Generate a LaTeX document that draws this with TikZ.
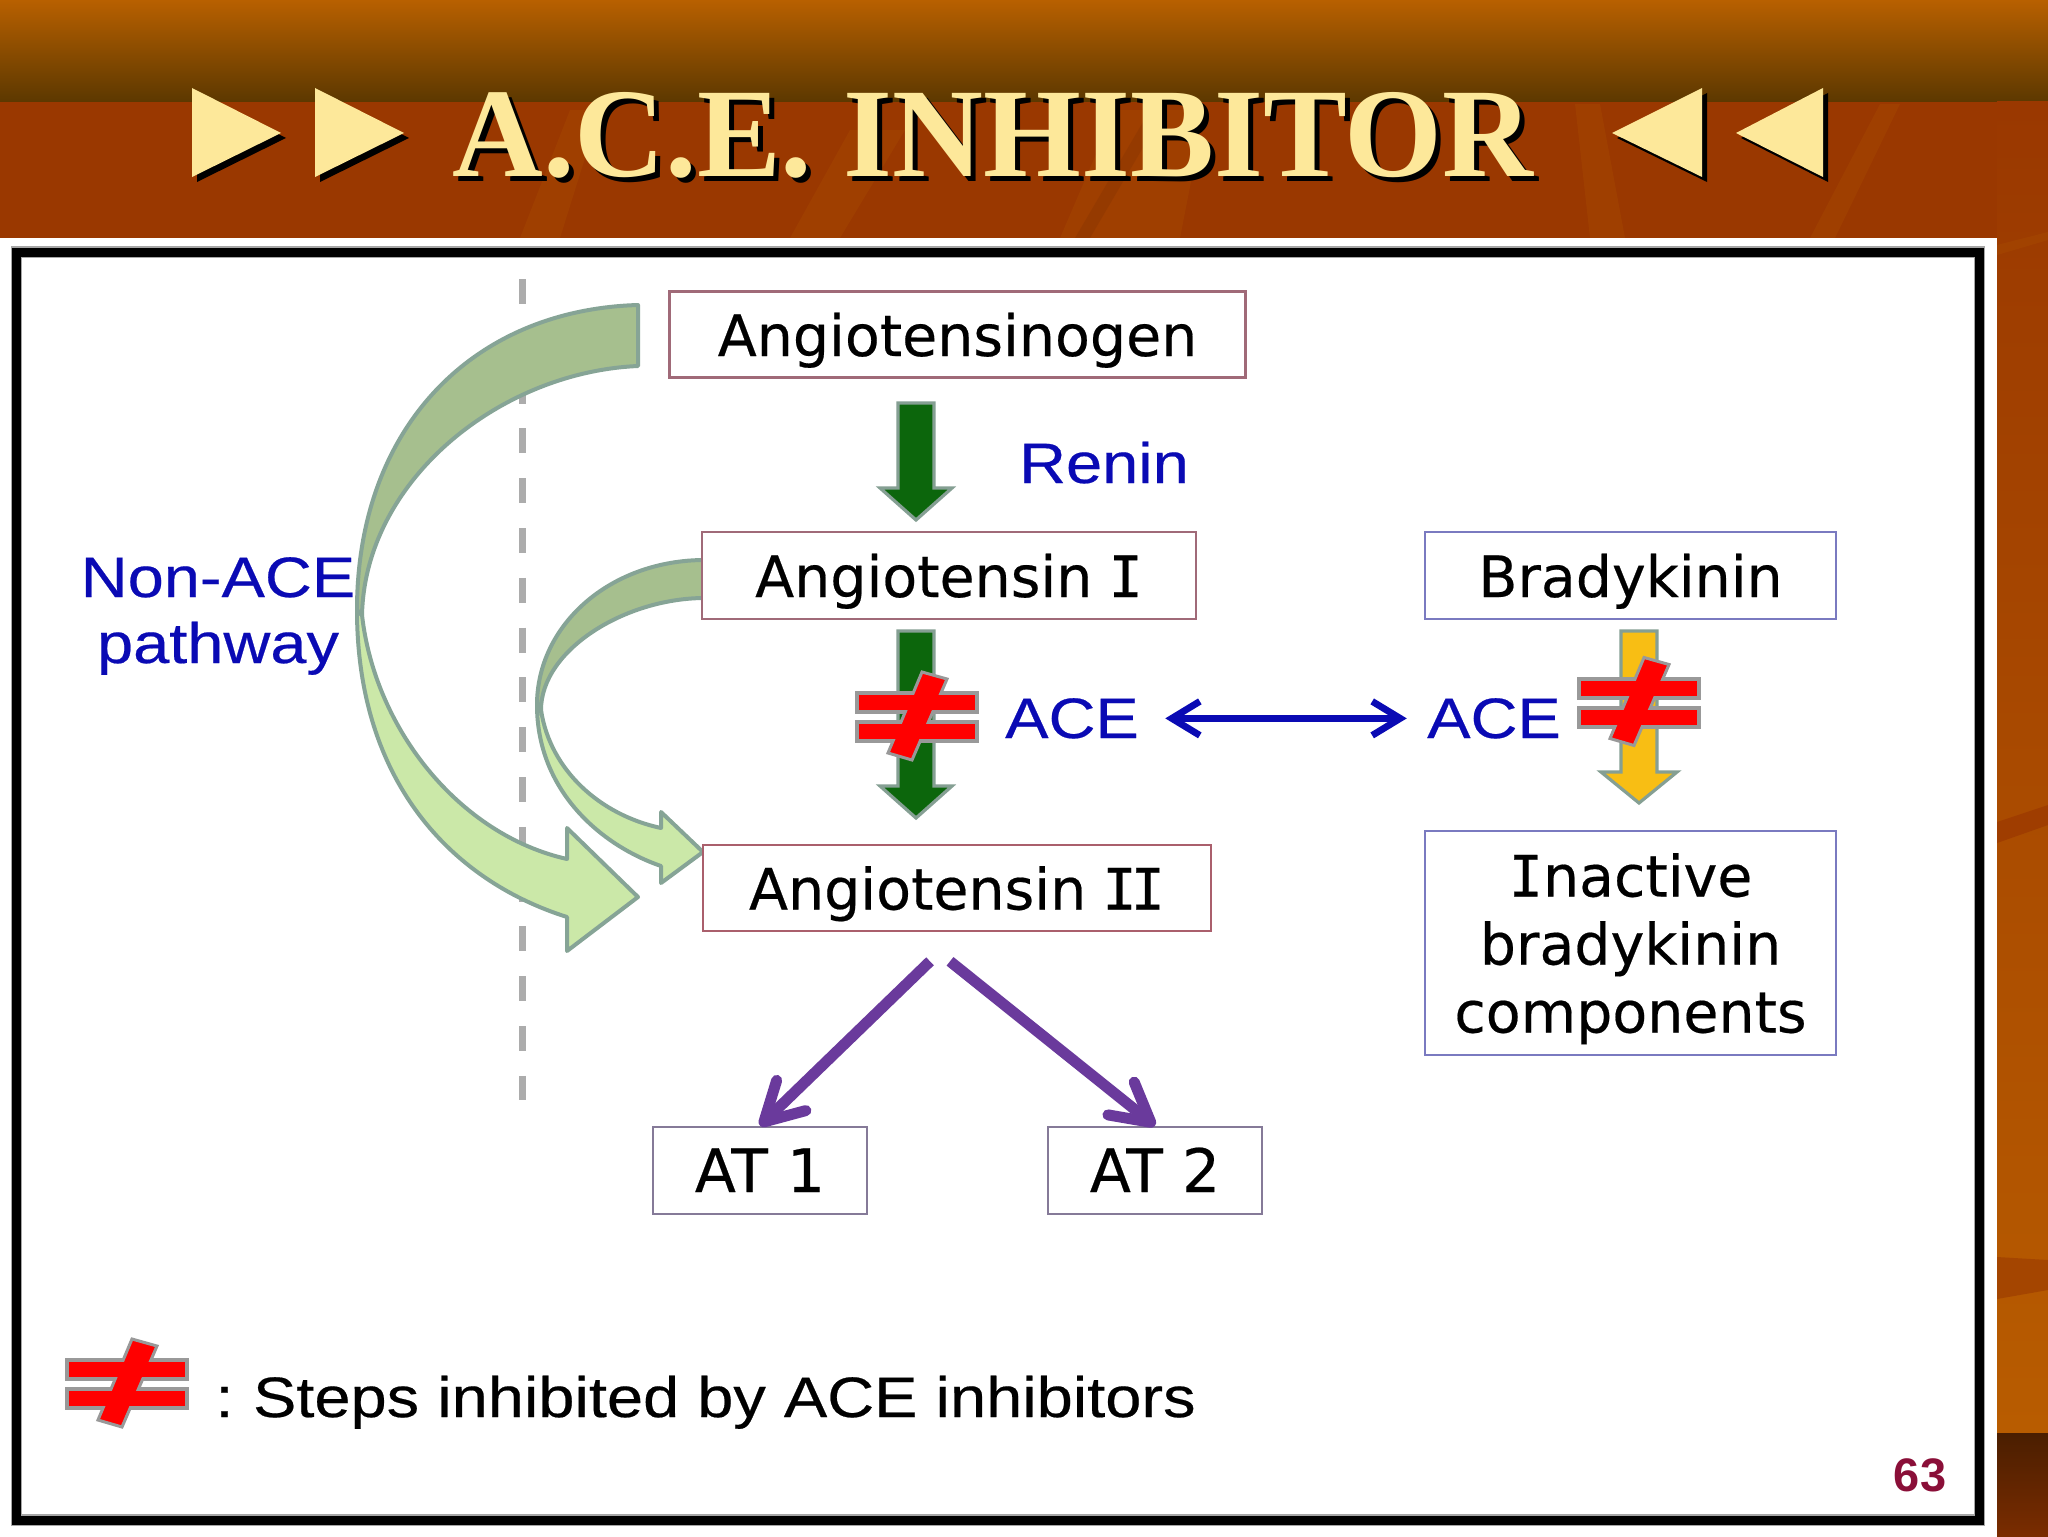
\documentclass[tikz,border=0pt]{standalone}
\usepackage{fontspec}
\setmainfont[FakeBold=0.35]{Liberation Sans}
\newfontfamily\pagefont{Liberation Sans}
\newfontfamily\boxfont[FakeBold=0.35]{DejaVu Sans}
\newfontfamily\serifI[FakeBold=0.35]{DejaVu Sans Mono}
\newfontfamily\titlefont{Liberation Serif}
\usetikzlibrary{arrows.meta,calc}
\definecolor{bandtop}{HTML}{B86000}
\definecolor{bandbot}{HTML}{5C3800}
\definecolor{bgred}{HTML}{9A3800}
\definecolor{bgorange}{HTML}{B85C00}
\definecolor{cornertop}{HTML}{4A1E00}
\definecolor{cornerbot}{HTML}{7A2C00}
\definecolor{cream}{HTML}{FDE89A}
\definecolor{leafdark}{HTML}{A6BF8E}
\definecolor{leaflight}{HTML}{CBE8A8}
\definecolor{leafline}{HTML}{86A496}
\definecolor{arrowgreen}{HTML}{0C660C}
\definecolor{arrowgold}{HTML}{F8BE14}
\definecolor{txtblue}{HTML}{0A0AB4}
\definecolor{purpleline}{HTML}{6A3A9C}
\definecolor{redbox}{HTML}{A06A78}
\definecolor{bluebox}{HTML}{7A7AC0}
\definecolor{greybox}{HTML}{857A98}
\definecolor{pagenum}{HTML}{8A0F38}
\tikzset{
  labelbox/.style={draw=#1,line width=1.3pt,fill=white,inner sep=0pt,font=\boxfont\fontsize{28.5}{34}\selectfont,text height=23pt,text depth=1.5pt,anchor=center},
  bluetext/.style={text=txtblue,font=\fontsize{28.5}{34}\selectfont,xscale=1.14,transform shape,inner sep=0pt,anchor=base},
  blockarrow/.style={fill=#1,draw=leafline!85!gray,line width=1.6pt,line join=miter},
  ribbon/.style={fill=#1,draw=leafline,line width=2pt,line join=round},
  purplearrow/.style={draw=purpleline,line width=5.5pt,-{Straight Barb[length=19pt,width=21pt,round]}},
  streak/.style={fill=#1,fill opacity=.18,draw=none}
}
\newcommand{\stopsign}[2]{%
  \begin{scope}[shift={(#1,#2)}]
    \filldraw[fill=red,draw=gray!80,line width=2pt] (-60,-24) rectangle (60,-5);
    \filldraw[fill=red,draw=gray!80,line width=2pt] (-60,5) rectangle (60,24);
    \filldraw[fill=red,draw=gray!80,line width=1.5pt] (5,-45) -- (30,-38) -- (-5,43) -- (-29,36) -- cycle;
    \fill[red] (-58,-22) rectangle (58,-7);
    \fill[red] (-58,7) rectangle (58,22);
    \fill[red] (8,-42) -- (27,-36) -- (-7,40) -- (-26,34) -- cycle;
  \end{scope}}
\newcommand{\downblock}[7]{% x, halfshaft, halfhead, top, headbase, tip, fill
  \draw[blockarrow=#7] (#1-#2,#4) -- (#1+#2,#4) -- (#1+#2,#5) -- (#1+#3,#5) -- (#1,#6) -- (#1-#3,#5) -- (#1-#2,#5) -- cycle;}
\begin{document}
\begin{tikzpicture}[x=.5pt,y=-.5pt]
\useasboundingbox (0,0) rectangle (2048,1536);
% background
\fill[bgred] (0,0) rectangle (2048,1536);
\shade[top color=bandtop,bottom color=bandbot] (0,0) rectangle (2048,102);
\shade[top color=bgred,bottom color=bgorange] (1997,102) rectangle (2048,1433);
\fill[streak=bandtop] (790,238) -- (850,130) -- (905,130) -- (840,238) -- cycle;
\fill[streak=bandtop] (1060,238) -- (1115,110) -- (1205,110) -- (1180,238) -- cycle;
\fill[streak=bgred!70!black] (1075,238) -- (1150,110) -- (1165,110) -- (1090,238) -- cycle;
\fill[streak=bandtop] (520,238) -- (570,110) -- (600,110) -- (560,238) -- cycle;
\fill[streak=bandtop] (1590,238) -- (1575,104) -- (1600,104) -- (1625,238) -- cycle;
\fill[streak=bandtop] (1810,238) -- (1880,104) -- (1900,104) -- (1835,238) -- cycle;
\fill[streak=bandtop] (1997,255) -- (2048,240) -- (2048,232) -- (1997,245) -- cycle;
\fill[bgred!85!bgorange] (1997,843) -- (2048,825) -- (2048,805) -- (1997,822) -- cycle;
\fill[bgred!65!bgorange] (1997,1257) -- (2048,1260) -- (2048,1290) -- (1997,1299) -- cycle;
\shade[top color=cornertop,bottom color=cornerbot] (1997,1433) rectangle (2048,1536);
% panel
\fill[white] (0,238) rectangle (1997,1536);
\draw[gray!70,line width=5.6pt] (16.5,252) rectangle (1979.5,1520);
\draw[black,line width=4.5pt] (16.5,252) rectangle (1979.5,1520);
% title
\foreach \sx/\sc in {5/black,0/cream}{
  \fill[\sc] (192+\sx,88+\sx) -- (281+\sx,133+\sx) -- (192+\sx,177+\sx) -- cycle;
  \fill[\sc] (315+\sx,88+\sx) -- (404+\sx,133+\sx) -- (315+\sx,177+\sx) -- cycle;
  \fill[\sc] (1702+\sx,88+\sx) -- (1612+\sx,133+\sx) -- (1702+\sx,177+\sx) -- cycle;
  \fill[\sc] (1823+\sx,88+\sx) -- (1736+\sx,133+\sx) -- (1823+\sx,177+\sx) -- cycle;
}
\node[anchor=base,inner sep=0pt,text=black,font=\titlefont\bfseries\fontsize{63.5}{70}\selectfont,xscale=.99,transform shape] (titleshade) at (998,181) {A.C.E. INHIBITOR};
\node[anchor=base,inner sep=0pt,text=cream,font=\titlefont\bfseries\fontsize{63.5}{70}\selectfont,xscale=.99,transform shape] (title) at (993,176) {A.C.E. INHIBITOR};
% dashed divider
\draw[gray!65,line width=3.5pt,dash pattern=on 12.5pt off 12.4pt] (522,279) -- (522,1100);
% big curved arrow
\filldraw[ribbon=leaflight] (357,610) .. controls (357,780) and (450,880) .. (567,917) -- (567,951) -- (638,897) -- (567,828) -- (567,859) .. controls (460,835) and (375,730) .. (362,615) -- cycle;
\filldraw[ribbon=leafdark] (638,305) .. controls (470,310) and (357,430) .. (357,610) -- (362,615) .. controls (365,480) and (500,372) .. (638,366) -- cycle;
% small curved arrow
\filldraw[ribbon=leaflight] (537,705) .. controls (537,790) and (600,845) .. (661,866) -- (661,883) -- (703,852) -- (661,812) -- (661,828) .. controls (600,815) and (550,770) .. (541,710) -- cycle;
\filldraw[ribbon=leafdark] (705,560) .. controls (610,560) and (537,625) .. (537,705) -- (541,710) .. controls (541,650) and (625,598) .. (705,598) -- cycle;
% boxes
\node[labelbox=redbox,minimum width=288pt,minimum height=43pt] (agt) at (957.5,334.5) {Angiotensinogen};
\node[labelbox=redbox,minimum width=247pt,minimum height=43.5pt] (ang1) at (949,575.5) {Angiotensin {\serifI\kern-1pt I}};
\node[labelbox=redbox!90!red,minimum width=254pt,minimum height=43pt] (ang2) at (957,888) {Angiotensin {\serifI\kern-1pt I\kern-3pt I}};
\node[labelbox=bluebox,minimum width=205.5pt,minimum height=43.5pt] (brady) at (1630.5,575.5) {Bradykinin};
\node[labelbox=greybox,minimum width=107pt,minimum height=43.5pt,font=\boxfont\fontsize{30}{34}\selectfont] (at1) at (760,1170.5) {AT 1};
\node[labelbox=greybox,minimum width=107pt,minimum height=43.5pt,font=\boxfont\fontsize{30}{34}\selectfont] (at2) at (1155,1170.5) {AT 2};
\node[labelbox=bluebox,minimum width=205.5pt,minimum height=112pt,align=center,text height=91pt,text depth=1.5pt] (inact) at (1630.5,943) {{\serifI I}nactive\\bradykinin\\components};
% block arrows
\downblock{916}{18}{36}{403}{488}{520}{arrowgreen}
\downblock{916}{18}{36}{631}{786}{818}{arrowgreen}
\downblock{1639}{18}{38}{631}{772}{803}{arrowgold}
\stopsign{917}{717}
\stopsign{1639}{702.5}
\stopsign{127}{1384}
% blue text
\node[bluetext] (nonace) at (218,597) {Non-ACE};
\node[bluetext] (pathway) at (218,663) {pathway};
\node[bluetext] (renin) at (1104,483) {Renin};
\node[bluetext] (ace1) at (1072,738) {ACE};
\node[bluetext] (ace2) at (1494,738) {ACE};
\draw[txtblue,line width=3.4pt,{Straight Barb[length=14pt,width=17pt]}-{Straight Barb[length=14pt,width=17pt]},shorten <=13pt,shorten >=10pt] (ace1.east) -- (ace2.west);
% purple connectors
\coordinate (p1s) at ($(ang2.south)+(-27,29)$);
\coordinate (p2s) at ($(ang2.south)+(-7,29)$);
\draw[purplearrow] (p1s) -- (at1.north);
\draw[purplearrow] (p2s) -- (at2.north);
% legend
\node[anchor=base west,inner sep=0pt,font=\fontsize{28.5}{34}\selectfont,xscale=1.14,transform shape] (legend) at (215,1417) {:\kern-2pt{} Steps inhibited by ACE inhibitors};
\node[anchor=base,inner sep=0pt,text=pagenum,font=\pagefont\bfseries\fontsize{23.5}{26}\selectfont] (pageno) at (1920,1491) {63};
\end{tikzpicture}
\end{document}
